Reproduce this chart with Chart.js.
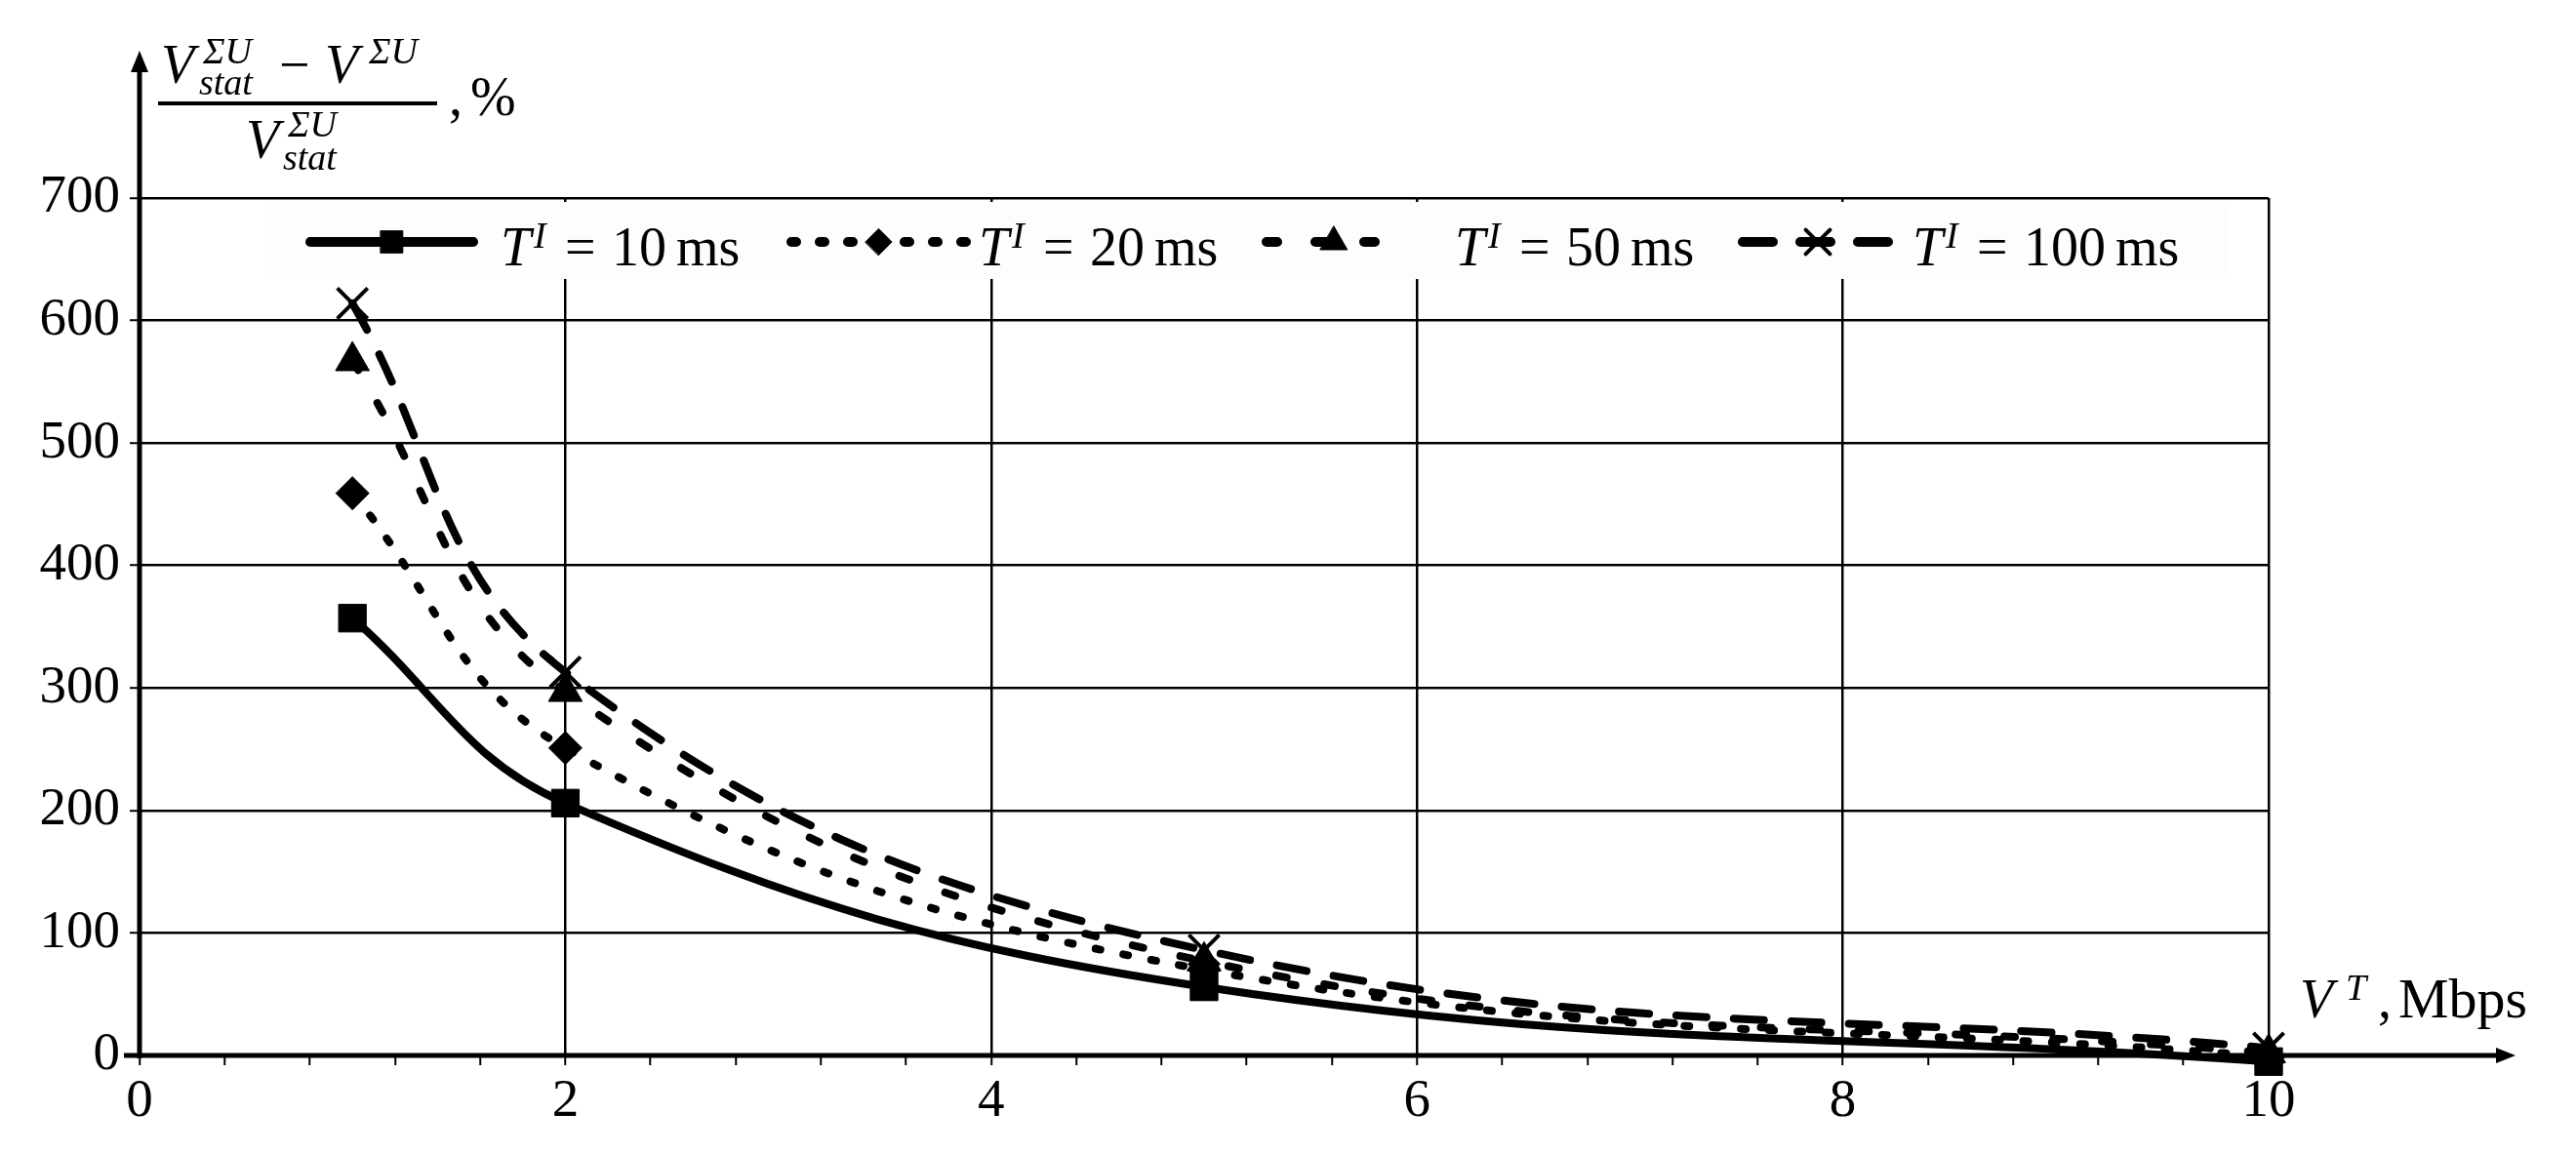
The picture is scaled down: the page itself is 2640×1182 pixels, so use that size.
<!DOCTYPE html>
<html>
<head>
<meta charset="utf-8">
<script src="https://cdn.jsdelivr.net/npm/chart.js@4.4.1/dist/chart.umd.min.js"></script>
<style>
  html, body { margin: 0; padding: 0; background: #fff; }
  #chart { display: block; }
</style>
</head>
<body>
<canvas id="chart" width="2640" height="1182"></canvas>
<script>
// V^T, Mbps
const SPEEDS    = [1, 2, 5, 10];
// (V_stat - V) / V_stat, %
const DEV_10MS  = [357, 206, 56, -5];
const DEV_20MS  = [459, 251, 70, -1];
const DEV_50MS  = [567, 297, 77, 2];
const DEV_100MS = [614, 313, 86, 6];
const PERIODS   = ['10', '20', '50', '100'];
const X_LABELS  = [0, 2, 4, 6, 8, 10];

const FONT = '"Liberation Serif", "DejaVu Serif", serif';
const font = (size, italic) => (italic ? 'italic ' : '') + size + 'px ' + FONT;

const STYLES = [
  { dash: [],       point: 'rect',     radius: 20, pbw: 1 },
  { dash: [5, 24],  point: 'rectRot',  radius: 17, pbw: 1 },
  { dash: [11, 39], point: 'triangle', radius: 20, pbw: 1 },
  { dash: [31, 28], point: 'crossRot', radius: 22, pbw: 4 },
];

// legend layout: sample line [x1, x2], start of text
const LEG_SAMPLE = [[318, 485], [811, 990], [1298, 1436], [1786, 1940]];
const LEG_TEXT   = [513, 1003, 1491, 1960];

const series = [DEV_10MS, DEV_20MS, DEV_50MS, DEV_100MS];

const datasets = series.map((vals, i) => ({
  label: 'T^I = ' + PERIODS[i] + ' ms',
  data: SPEEDS.map((x, j) => ({ x, y: vals[j] })),
  borderColor: '#000',
  borderWidth: 8,
  borderDash: STYLES[i].dash,
  borderCapStyle: 'round',
  tension: 0.4,
  fill: false,
  clip: false,
  pointStyle: STYLES[i].point,
  pointRadius: STYLES[i].radius,
  pointBackgroundColor: '#000',
  pointBorderColor: '#000',
  pointBorderWidth: STYLES[i].pbw,
}));

function run(ctx, x, y, text, f) {
  ctx.font = f;
  ctx.fillText(text, x, y);
  return x + ctx.measureText(text).width;
}

const decor = {
  id: 'decor',
  beforeDatasetsDraw(chart) {
    const { ctx } = chart;
    const { left, bottom } = chart.chartArea;
    ctx.save();
    ctx.strokeStyle = '#000';
    ctx.fillStyle = '#000';
    ctx.lineWidth = 5;
    // x axis with arrow
    ctx.beginPath(); ctx.moveTo(left - 16, bottom); ctx.lineTo(2562, bottom); ctx.stroke();
    ctx.beginPath(); ctx.moveTo(2578, bottom); ctx.lineTo(2558, bottom - 8); ctx.lineTo(2558, bottom + 8); ctx.closePath(); ctx.fill();
    // y axis with arrow
    ctx.beginPath(); ctx.moveTo(left, bottom + 3); ctx.lineTo(left, 70); ctx.stroke();
    ctx.beginPath(); ctx.moveTo(left, 52); ctx.lineTo(left - 9, 74); ctx.lineTo(left + 9, 74); ctx.closePath(); ctx.fill();
    ctx.restore();
  },
  afterDraw(chart) {
    const { ctx } = chart;
    ctx.save();
    ctx.fillStyle = '#000';
    ctx.strokeStyle = '#000';
    ctx.textBaseline = 'alphabetic';
    ctx.textAlign = 'left';

    // legend
    ctx.fillStyle = '#fdfdfd';
    ctx.fillRect(270, 207, 2012, 79);
    ctx.fillStyle = '#000';
    const ly = 248;
    chart.data.datasets.forEach((ds, i) => {
      const [x1, x2] = LEG_SAMPLE[i];
      ctx.lineWidth = 10;
      ctx.lineCap = 'round';
      ctx.setLineDash(STYLES[i].dash);
      ctx.beginPath(); ctx.moveTo(x1, ly); ctx.lineTo(x2, ly); ctx.stroke();
      ctx.setLineDash([]);
      ctx.lineWidth = STYLES[i].pbw;
      Chart.helpers.drawPoint(ctx, {
        pointStyle: STYLES[i].point, radius: STYLES[i].radius * 0.8,
        rotation: 0, borderWidth: STYLES[i].pbw,
      }, (x1 + x2) / 2, ly);
      const tx = LEG_TEXT[i];
      run(ctx, tx, 272, 'T', font(56, true));
      run(ctx, tx + 34, 254, 'I', font(38, true));
      run(ctx, tx + 66, 272, '=', font(56));
      const e = run(ctx, tx + 114, 272, PERIODS[i], font(56));
      run(ctx, e + 10, 272, 'ms', font(56));
    });

    // y axis title: fraction
    run(ctx, 165, 85, 'V', font(56, true));
    run(ctx, 208, 65, 'ΣU', font(38, true));
    run(ctx, 204, 97, 'stat', font(38, true));
    run(ctx, 286, 85, '−', font(56));
    run(ctx, 333, 85, 'V', font(56, true));
    run(ctx, 378, 65, 'ΣU', font(38, true));
    ctx.fillRect(162, 104, 286, 4);
    run(ctx, 460, 118, ',', font(56));
    run(ctx, 482, 118, '%', font(56));
    run(ctx, 252, 162, 'V', font(56, true));
    run(ctx, 295, 140, 'ΣU', font(38, true));
    run(ctx, 290, 174, 'stat', font(38, true));

    // x axis title
    run(ctx, 2357, 1043, 'V', font(56, true));
    run(ctx, 2404, 1025, 'T', font(38, true));
    run(ctx, 2437, 1043, ',', font(56));
    run(ctx, 2458, 1043, 'Mbps', font(58));
    ctx.restore();
  }
};

new Chart(document.getElementById('chart'), {
  type: 'line',
  data: { datasets },
  options: {
    responsive: false,
    devicePixelRatio: 1,
    animation: false,
    layout: { padding: { top: 203, right: 315, left: 0, bottom: 0 } },
    plugins: { legend: { display: false }, tooltip: { enabled: false } },
    scales: {
      x: {
        type: 'linear',
        min: 0,
        max: 10,
        afterFit: s => { s.height = 100; },
        border: { display: false },
        grid: {
          color: c => {
            const v = c.tick ? c.tick.value : 0;
            return v > 0 && X_LABELS.some(l => Math.abs(l - v) < 1e-6) ? '#000' : 'rgba(0,0,0,0)';
          },
          lineWidth: 2.5,
          tickLength: 10,
          tickColor: '#000',
          tickWidth: 2,
        },
        ticks: {
          stepSize: 0.4,
          autoSkip: false,
          maxRotation: 0,
          padding: 5,
          color: '#000',
          font: { family: FONT, size: 55 },
          callback: v => X_LABELS.some(l => Math.abs(l - v) < 1e-6) ? String(Math.round(v)) : '',
        },
      },
      y: {
        min: 0,
        max: 700,
        afterFit: s => { s.width = 143; },
        border: { display: false },
        grid: { color: '#000', lineWidth: 2.5, tickLength: 10, tickColor: '#000', tickWidth: 2 },
        ticks: {
          stepSize: 100,
          padding: 10,
          color: '#000',
          font: { family: FONT, size: 55 },
        },
      },
    },
  },
  plugins: [decor],
});
</script>
</body>
</html>
